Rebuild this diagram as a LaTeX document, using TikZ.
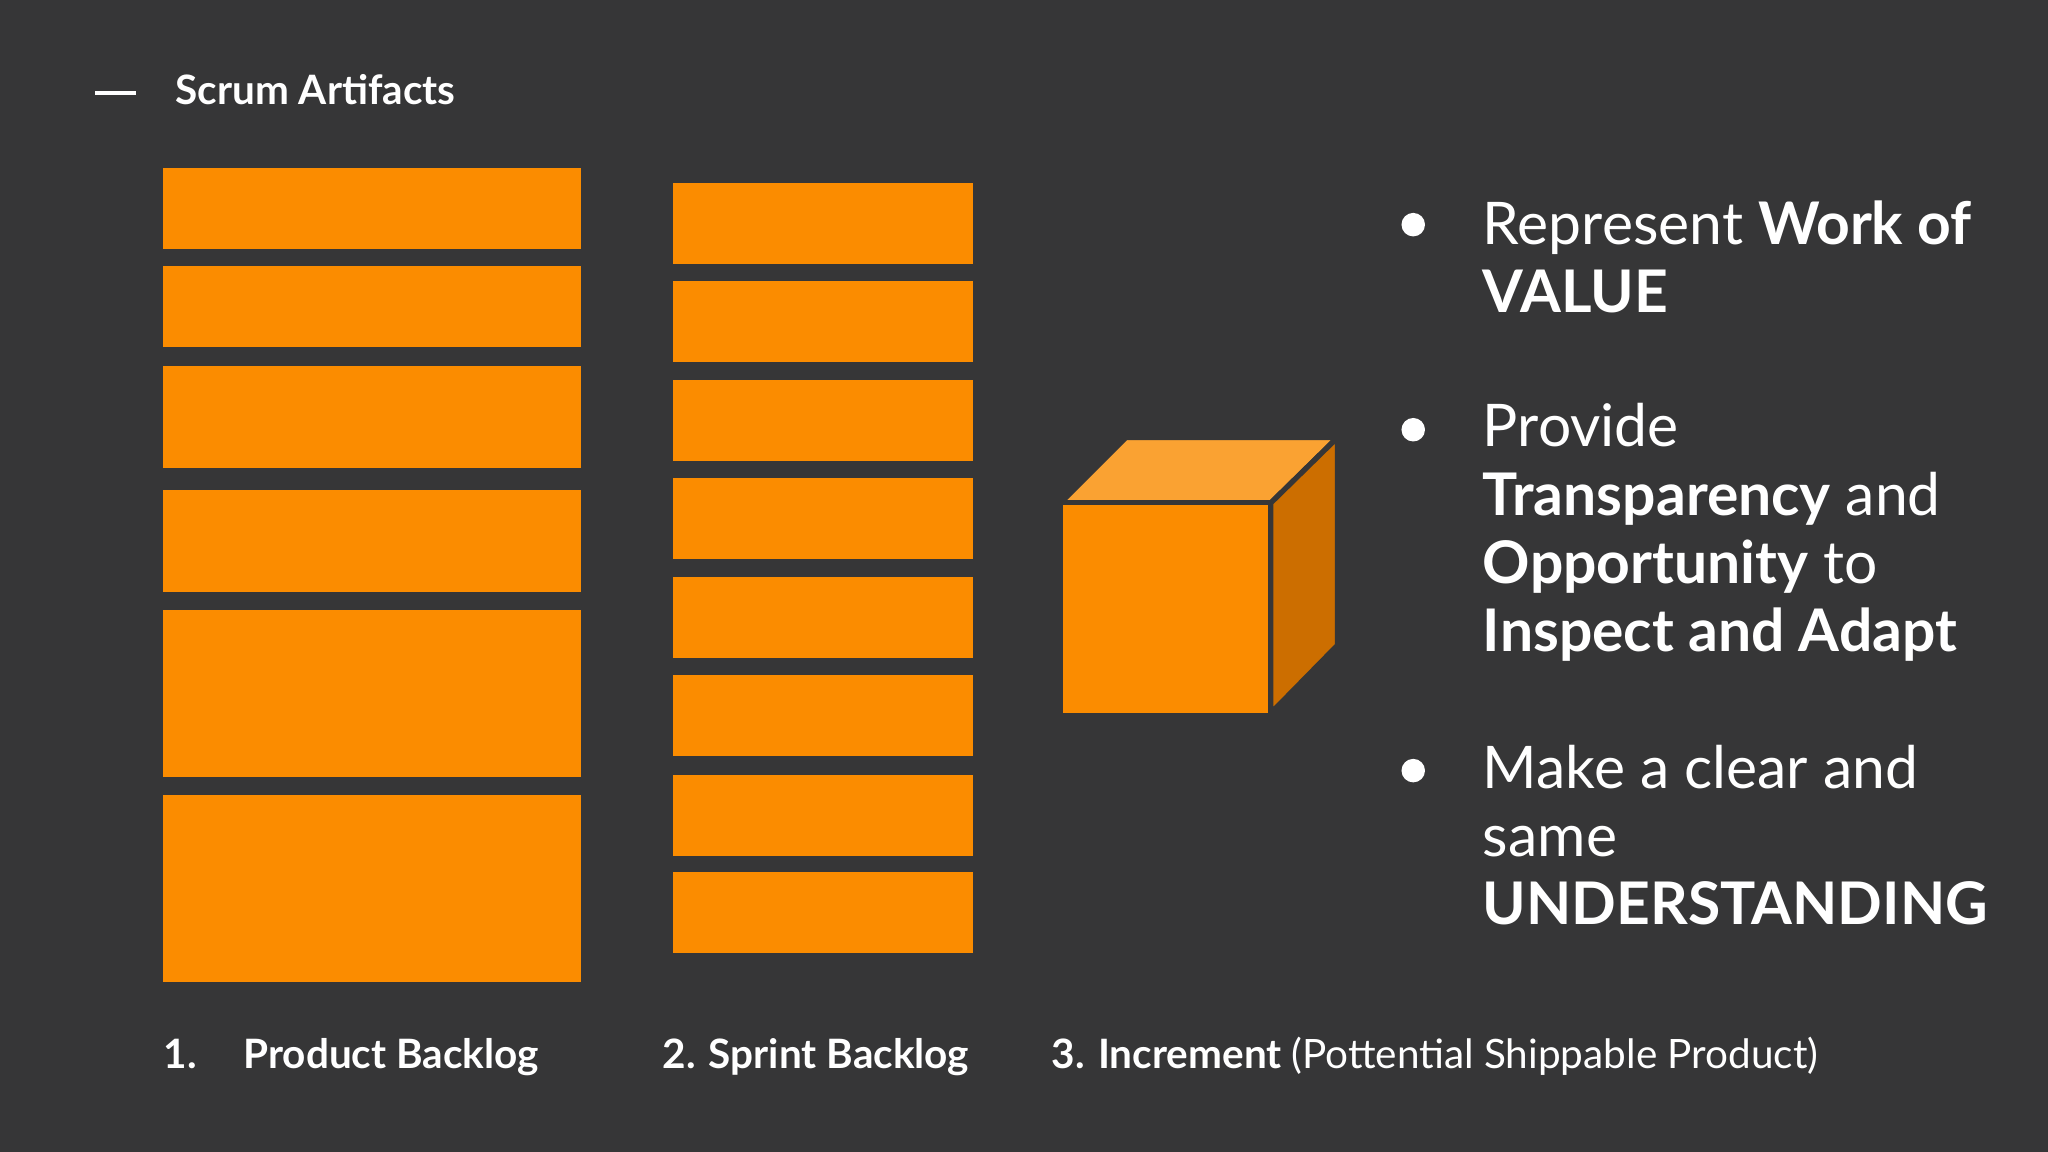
\documentclass[tikz,border=0pt]{standalone}
\usepackage{fontspec}
\setmainfont{Lato}
\definecolor{bg}{RGB}{54,54,55}
\definecolor{org}{RGB}{251,140,0}
\definecolor{orgtop}{RGB}{250,162,50}
\definecolor{orgside}{RGB}{204,110,0}
\tikzset{blk/.style={fill=org,draw=none},
 txt/.style={anchor=base west,text=white,inner sep=0pt},
 big/.style={txt,font=\fontsize{22.5}{26}\selectfont},
 lab/.style={txt,font=\fontsize{15.5}{18}\selectfont\bfseries}}
\begin{document}
\begin{tikzpicture}[x=0.5pt,y=-0.5pt]
\fill[bg] (0,0) rectangle (1568,882);
\useasboundingbox (0,0) rectangle (1568,882);
\draw[white,line width=1.5pt] (73,71) -- (104,71);
\node[lab] (title) at (134,80) {Scrum Artifacts};
% product backlog
\foreach \a/\b [count=\i] in {129/191,204/266,280/358,375/453,467/595,609/752}
  \fill[org] (125,\a) rectangle (445,\b);
% sprint backlog
\foreach \a/\b in {140/202,215/277,291/353,366/428,442/504,517/579,593/655,668/730}
  \fill[org] (515,\a) rectangle (745,\b);
% cube
\fill[orgtop,draw=bg,line width=2pt] (812,385) -- (862,335) -- (1024,335) -- (973,385) -- cycle;
\fill[orgside,draw=bg,line width=2pt] (973,385) -- (1024,335) -- (1024,494) -- (973,546) -- cycle;
\fill[org,draw=bg,line width=2pt] (812,385) rectangle (973,548);
% bullets
\foreach \y in {172,329,590} \fill[white] (1082,\y) circle (9);
\node[big] (b1) at (1135,187) {Represent \textbf{Work of}};
\node[big] (b1b) at (1135,239) {\textbf{VALUE}};
\node[big] (b2) at (1135,342) {Provide};
\node[big] (b2b) at (1135,395) {\textbf{Transparency} and};
\node[big] (b2c) at (1135,447) {\textbf{Opportunity} to};
\node[big] (b2d) at (1135,499) {\textbf{Inspect and Adapt}};
\node[big] (b3) at (1135,604) {Make a clear and};
\node[big] (b3b) at (1135,656) {same};
\node[big] (b3c) at (1135,708) {\textbf{UNDERSTANDING}};
% labels
\node[lab] (l1) at (125,818) {1.};
\node[lab] (l1b) at (186,818) {Product Backlog};
\node[lab] (l2) at (507,818) {2. Sprint Backlog};
\node[lab] (l3) at (805,818) {3. Increment \mdseries(Pottential Shippable Product)};
\end{tikzpicture}
\end{document}
